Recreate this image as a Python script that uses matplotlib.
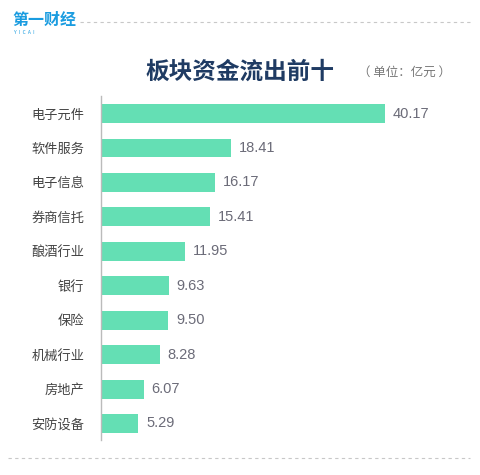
import matplotlib.pyplot as plt
from matplotlib.lines import Line2D

plt.rcParams['font.family'] = ['Noto Sans CJK SC', 'DejaVu Sans']

categories = ["电子元件", "软件服务", "电子信息", "券商信托", "酿酒行业",
              "银行", "保险", "机械行业", "房地产", "安防设备"]
values = [40.17, 18.41, 16.17, 15.41, 11.95, 9.63, 9.50, 8.28, 6.07, 5.29]

W, H = 481, 475
fig = plt.figure(figsize=(W / 100, H / 100), dpi=100)

# plot area in pixels: x 101..470, y 96..440
ax = fig.add_axes([101 / W, 1 - 440 / H, 369 / W, 344 / H])
ypos = list(range(len(categories)))
ax.barh(ypos, values, height=0.55, color="#64dfb4", edgecolor="none")
ax.set_xlim(0, 369 / 7.07)
ax.set_ylim(9.48, -0.51)

for y, v in zip(ypos, values):
    ax.text(v + 1.1, y, f"{v:.2f}", va="center", ha="left",
            fontsize=10.5, color="#6b6b78", family=["Liberation Sans"])

ax.set_yticks(ypos)
ax.set_yticklabels(categories, fontsize=9.5, color="#444444")
ax.tick_params(axis="y", length=0, pad=12)
ax.set_xticks([])
for s in ["top", "right", "bottom"]:
    ax.spines[s].set_visible(False)
ax.spines["left"].set_color("#bbbbbb")
ax.spines["left"].set_linewidth(1.0)

# title and unit
fig.text(240 / W, 1 - 72 / H, "板块资金流出前十", ha="center", va="center",
         fontsize=17, fontweight="bold", color="#1f3b63")
fig.text(405 / W, 1 - 72 / H, "（ 单位：亿元 ）", ha="center", va="center",
         fontsize=9, color="#777777")

# logo
fig.text(12 / W, 1 - 20 / H, "第一财经", ha="left", va="center",
         fontsize=11.5, fontweight="bold", color="#1a9ce0")
fig.text(14 / W, 1 - 32 / H, "Y  I  C  A  I", ha="left", va="center",
         fontsize=3.5, color="#1a9ce0")

# dashed separators
fig.add_artist(Line2D([80 / W, 470 / W], [1 - 22 / H, 1 - 22 / H],
                      transform=fig.transFigure, color="#c8c8c8",
                      linewidth=0.8, linestyle=(0, (3, 3))))
fig.add_artist(Line2D([8 / W, 470 / W], [1 - 458 / H, 1 - 458 / H],
                      transform=fig.transFigure, color="#c8c8c8",
                      linewidth=0.8, linestyle=(0, (3, 3))))

fig.savefig("out.png", dpi=100, facecolor="white")
